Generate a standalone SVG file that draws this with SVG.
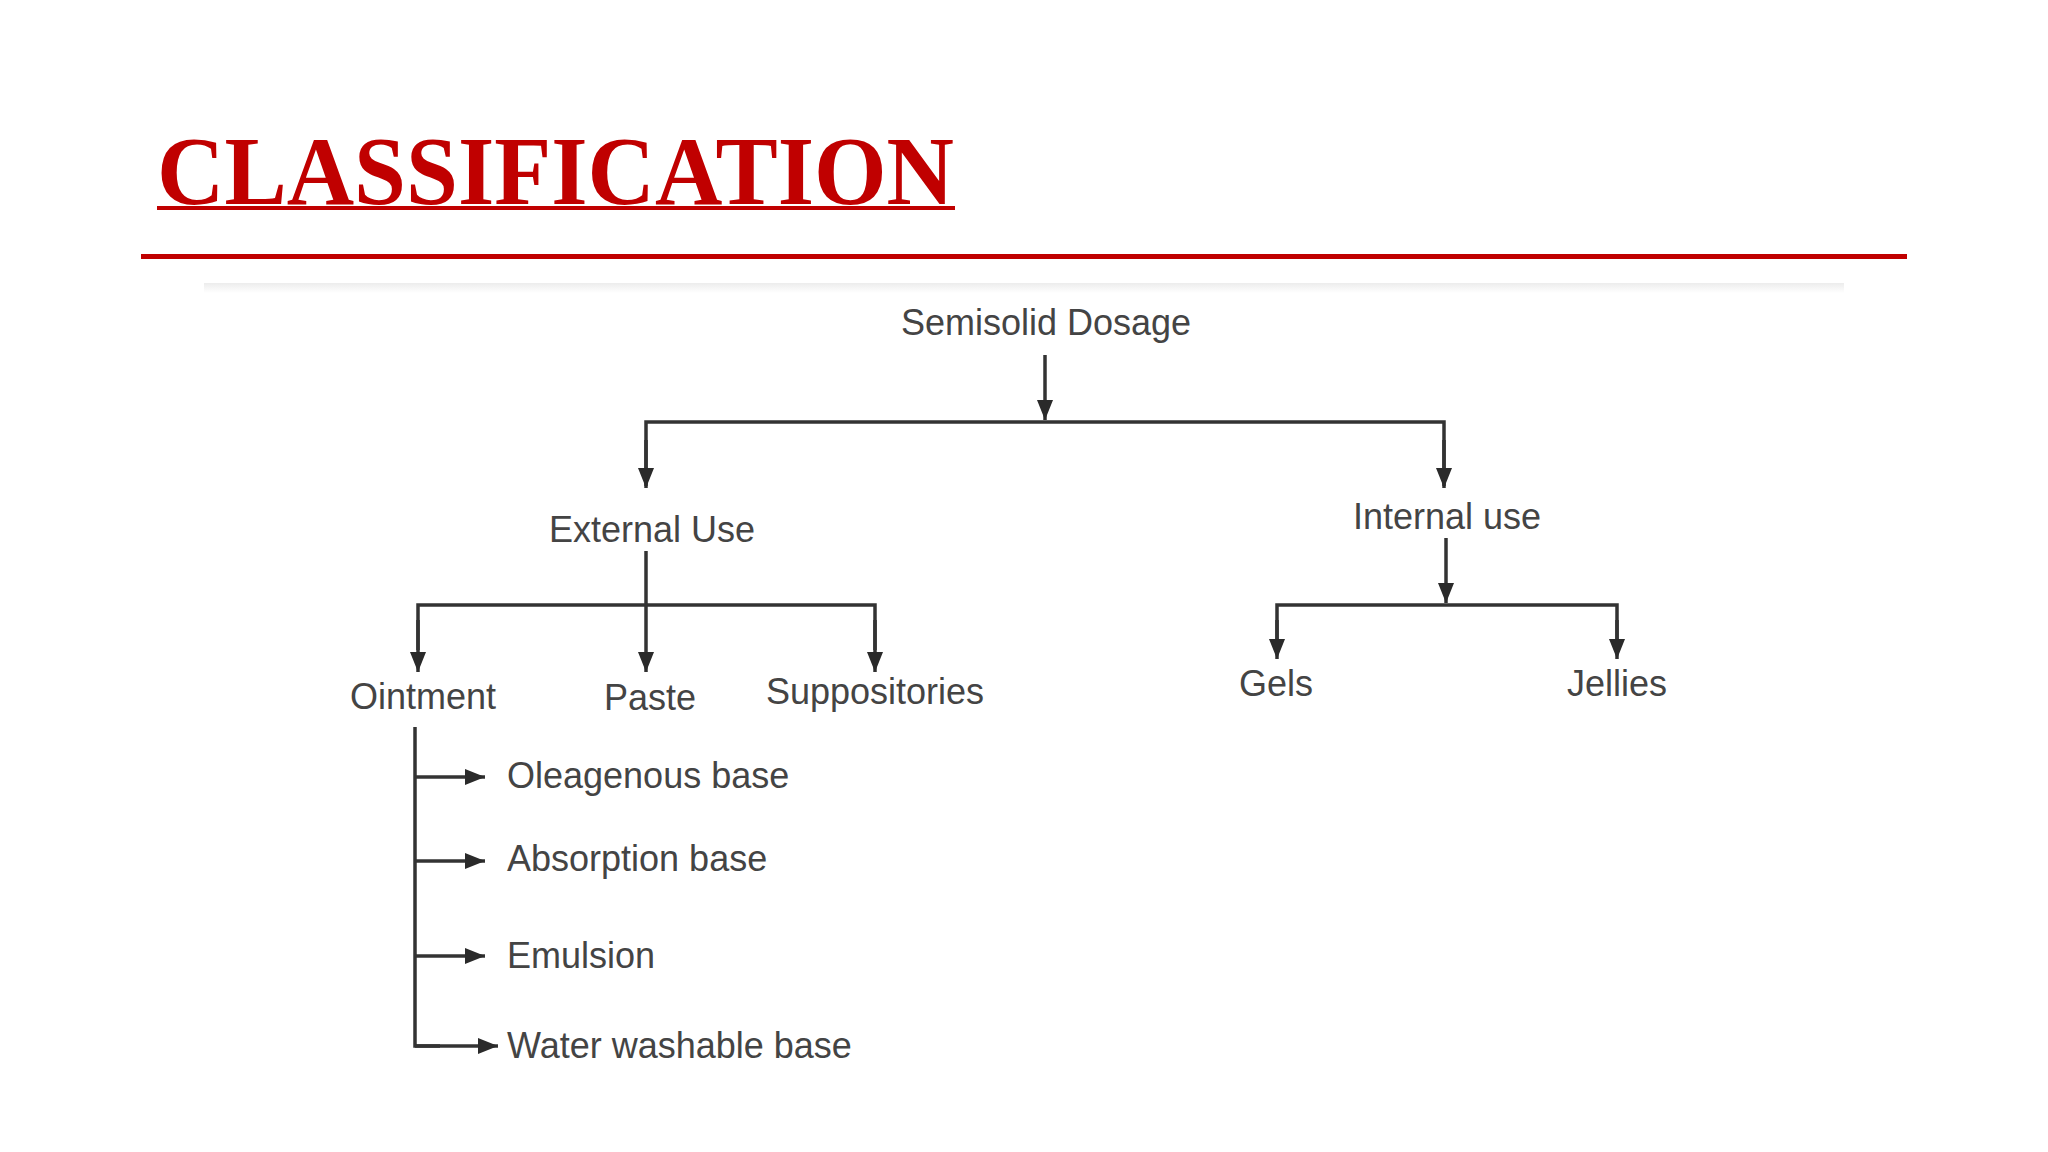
<svg xmlns="http://www.w3.org/2000/svg" width="2048" height="1152" viewBox="0 0 2048 1152">
<defs>
<marker id="ah" markerUnits="userSpaceOnUse" markerWidth="20" markerHeight="16" refX="20" refY="8" orient="auto"><path d="M0,0 L20,8 L0,16 Z" fill="#2a2a2a"/></marker>
<linearGradient id="sh" x1="0" y1="0" x2="0" y2="1"><stop offset="0" stop-color="#ececec"/><stop offset="1" stop-color="#ffffff"/></linearGradient>
</defs>
<style>
.t{font-family:"Liberation Sans",Arial,sans-serif;font-size:36px;fill:#444;text-anchor:middle}
.l{font-family:"Liberation Sans",Arial,sans-serif;font-size:36px;fill:#444}
.c{stroke:#333;stroke-width:3.5;fill:none}
.a{stroke:#333;stroke-width:3.5;fill:none;marker-end:url(#ah)}
</style>
<rect width="2048" height="1152" fill="#fff"/>
<g id="title">
<text x="157" y="204" font-family="'Liberation Serif','Times New Roman',serif" font-weight="bold" font-size="98" fill="#c00000" textLength="797" lengthAdjust="spacingAndGlyphs">CLASSIFICATION</text>
<rect x="157" y="206" width="798" height="4" fill="#c00000"/>
<rect x="141" y="254" width="1766" height="5" fill="#c00000"/>
<rect x="204" y="283" width="1640" height="10" fill="url(#sh)"/>
</g>
<g id="connectors">
<line class="a" x1="1045" y1="355" x2="1045" y2="420"/>
<polyline class="c" points="646,486 646,422 1444,422 1444,486"/>
<line class="a" x1="646" y1="440" x2="646" y2="488"/>
<line class="a" x1="1444" y1="440" x2="1444" y2="488"/>
<line class="c" x1="646" y1="551" x2="646" y2="605"/>
<polyline class="c" points="418,650 418,605 875,605 875,650"/>
<line class="a" x1="418" y1="620" x2="418" y2="672"/>
<line class="a" x1="646" y1="605" x2="646" y2="672"/>
<line class="a" x1="875" y1="620" x2="875" y2="672"/>
<line class="a" x1="1446" y1="538" x2="1446" y2="603"/>
<polyline class="c" points="1277,640 1277,605 1617,605 1617,640"/>
<line class="a" x1="1277" y1="620" x2="1277" y2="659"/>
<line class="a" x1="1617" y1="620" x2="1617" y2="659"/>
<polyline class="c" points="415,727 415,1046 440,1046"/>
<line class="a" x1="415" y1="777" x2="485" y2="777"/>
<line class="a" x1="415" y1="861" x2="485" y2="861"/>
<line class="a" x1="415" y1="956" x2="485" y2="956"/>
<line class="a" x1="415" y1="1046" x2="498" y2="1046"/>
</g>
<g id="n-semisolid"><text class="t" x="1046" y="335">Semisolid Dosage</text></g>
<g id="n-external"><text class="t" x="652" y="542">External Use</text></g>
<g id="n-internal"><text class="t" x="1447" y="529">Internal use</text></g>
<g id="n-ointment"><text class="t" x="423" y="709">Ointment</text></g>
<g id="n-paste"><text class="t" x="650" y="710">Paste</text></g>
<g id="n-supp"><text class="t" x="875" y="704">Suppositories</text></g>
<g id="n-gels"><text class="t" x="1276" y="696">Gels</text></g>
<g id="n-jellies"><text class="t" x="1617" y="696">Jellies</text></g>
<g id="n-oleag"><text class="l" x="507" y="788">Oleagenous base</text></g>
<g id="n-absorp"><text class="l" x="507" y="871">Absorption base</text></g>
<g id="n-emul"><text class="l" x="507" y="968">Emulsion</text></g>
<g id="n-water"><text class="l" x="507" y="1058">Water washable base</text></g>
</svg>
